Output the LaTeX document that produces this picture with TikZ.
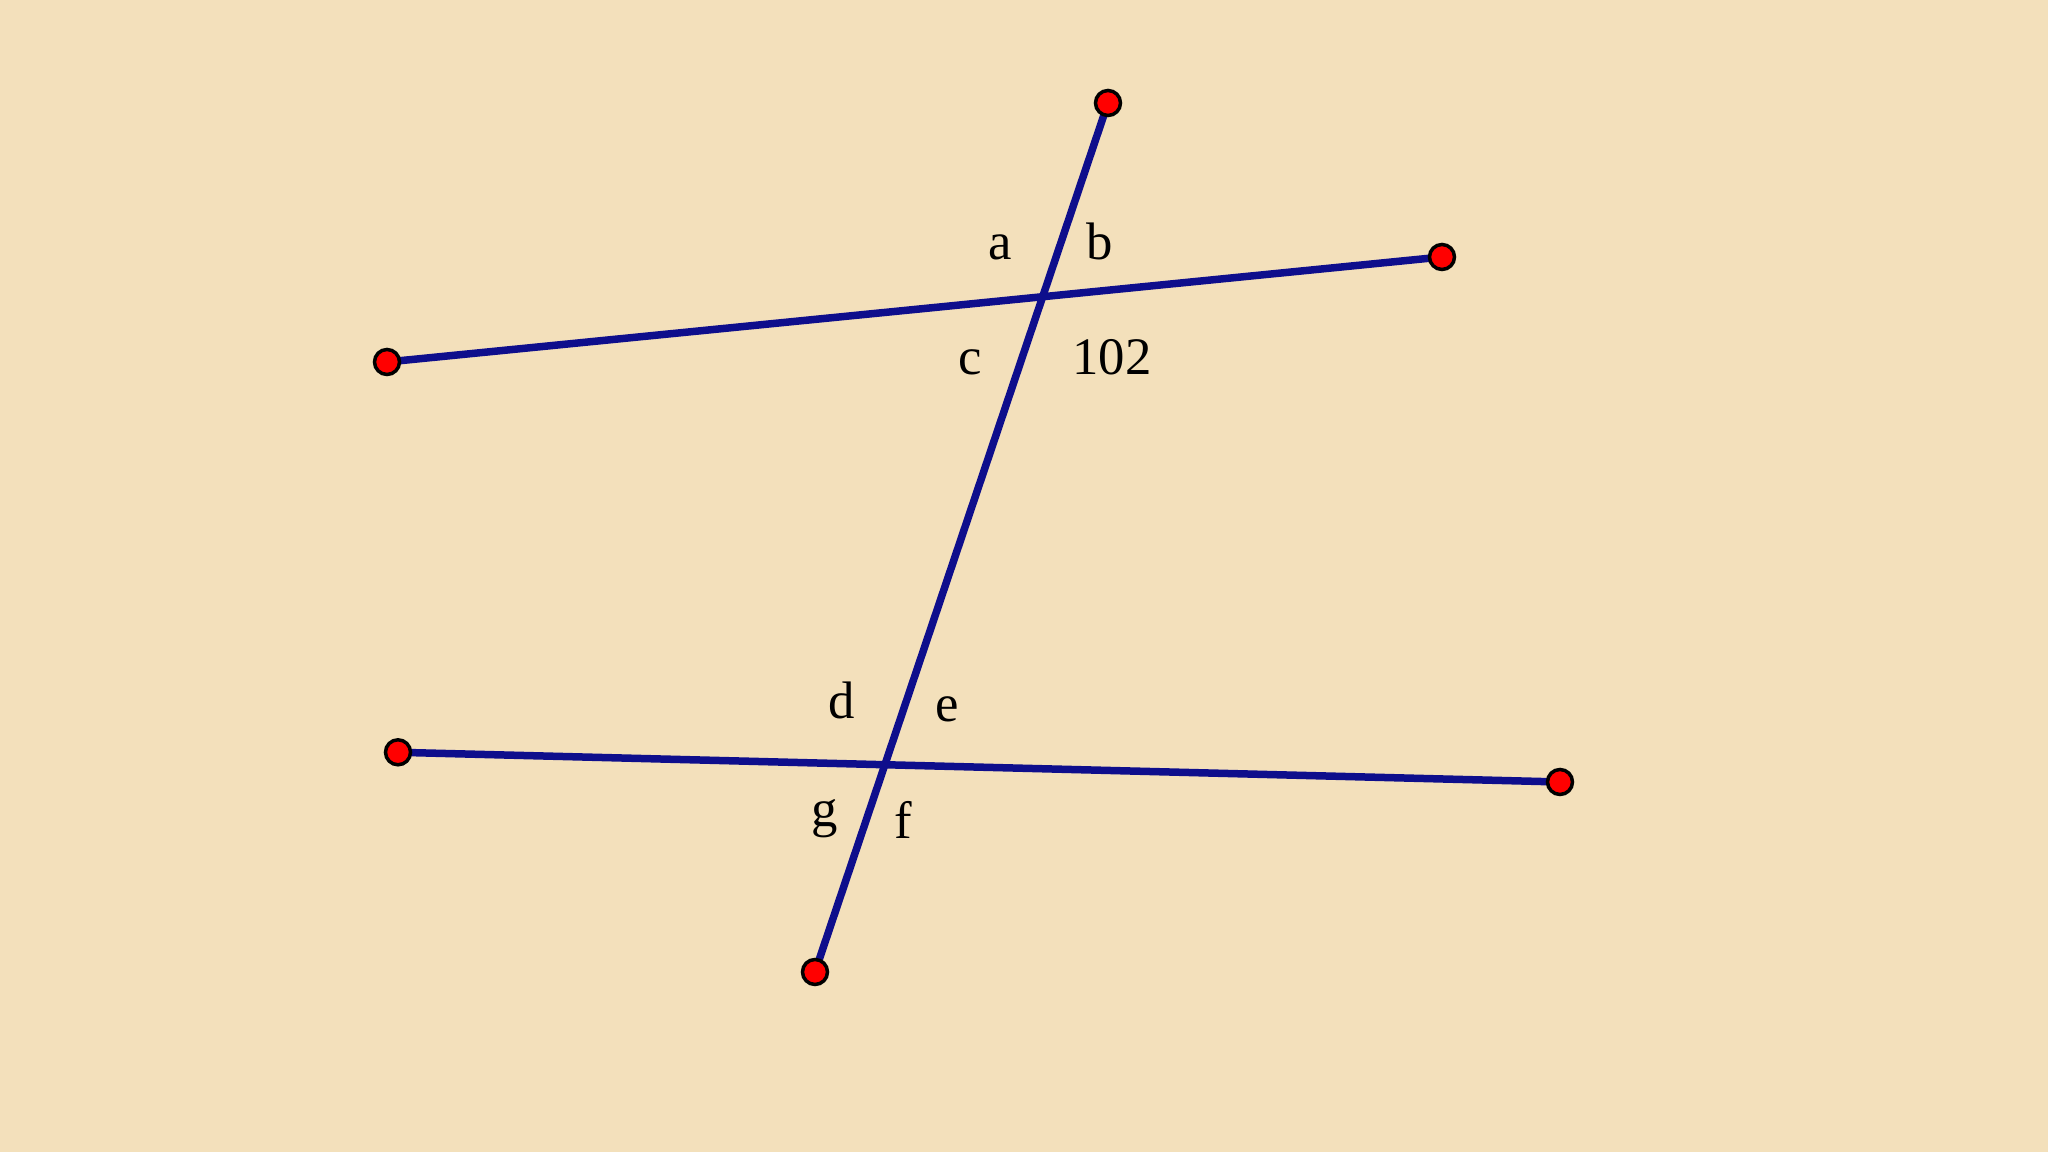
\documentclass[tikz,border=0pt]{standalone}
\usepackage{fontspec}
\setmainfont{Liberation Serif}
\usepackage{tikz}
\definecolor{FondSable}{RGB}{243,224,187}
\definecolor{BleuSegment}{RGB}{14,14,140}
\tikzstyle{segment}  =[line width=0.75mm, color=BleuSegment]
\tikzstyle{point}    =[circle, fill=red, draw=black, line width=0.35mm, inner sep=0pt, minimum size=2.5mm]
\tikzstyle{etiquette}=[anchor=base, inner sep=0pt, font=\fontsize{15}{18}\selectfont]

\begin{document}
\begin{tikzpicture}
 \fill[FondSable] (0,0) rectangle (20.48,11.52) ;
 \useasboundingbox (0,0) rectangle (20.48,11.52) ;
 \coordinate (H) at (11.08,10.49) ;
 \coordinate (K) at (8.15,1.80) ;
 \coordinate (P) at (3.87,7.90) ;
 \coordinate (Q) at (14.42,8.95) ;
 \coordinate (R) at (3.98,3.997) ;
 \coordinate (S) at (15.60,3.70) ;
 \draw[segment] (H)--(K) ;
 \draw[segment] (P)--(Q) ;
 \draw[segment] (R)--(S) ;
 \node[point] (pH) at (H) {} ;
 \node[point] (pK) at (K) {} ;
 \node[point] (pP) at (P) {} ;
 \node[point] (pQ) at (Q) {} ;
 \node[point] (pR) at (R) {} ;
 \node[point] (pS) at (S) {} ;
 \node[etiquette] (la) at (10.00,8.92) {a} ;
 \node[etiquette] (lb) at (11.00,8.92) {b} ;
 \node[etiquette] (lc) at (9.70,7.77) {c} ;
 \node[etiquette] (lm) at (11.12,7.77) {102} ;
 \node[etiquette] (ld) at (8.42,4.33) {d} ;
 \node[etiquette] (le) at (9.47,4.30) {e} ;
 \node[etiquette] (lg) at (8.25,3.25) {g} ;
 \node[etiquette] (lf) at (9.03,3.13) {f} ;
\end{tikzpicture}
\end{document}
